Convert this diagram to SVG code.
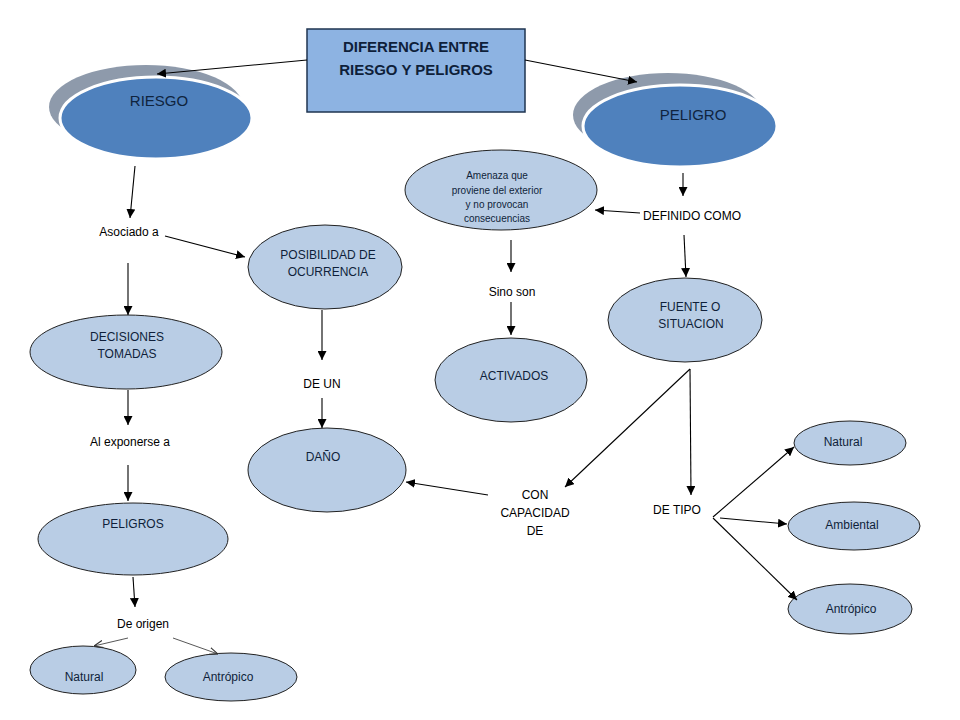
<svg xmlns="http://www.w3.org/2000/svg" width="960" height="720" viewBox="0 0 960 720">
<defs>
<marker id="ah" viewBox="0 0 10 10" refX="10" refY="5" markerWidth="9" markerHeight="9" markerUnits="userSpaceOnUse" orient="auto"><path d="M0,0 L10,5 L0,10 z" fill="#000"/></marker>
<marker id="oh" viewBox="0 0 10 10" refX="10" refY="5" markerWidth="9" markerHeight="9" markerUnits="userSpaceOnUse" orient="auto"><path d="M0,1 L10,5 L0,9" fill="none" stroke="#333" stroke-width="1.2"/></marker>
<style>
text{font-family:"Liberation Sans",Arial,sans-serif;font-size:12px;text-anchor:middle;fill:#000}
.n{fill:#B9CDE5;stroke:#222;stroke-width:1}
.nt{fill:#0F1F3A}
.big{fill:#4F81BD;stroke:#fff;stroke-width:3}
.sh{fill:#8E9AAB}
.bt{font-size:15px;fill:#0F243E}
.c line,.c path{stroke:#000;stroke-width:1.1;fill:none;marker-end:url(#ah)}
.c .thin{stroke:#444;stroke-width:0.9;marker-end:url(#oh)}
.sm{font-size:10px}
</style>
</defs>
<rect width="960" height="720" fill="#fff"/>

<g id="title">
<rect x="307" y="29" width="218" height="83" fill="#8DB3E2" stroke="#1F3550" stroke-width="1.5"/>
<text x="416" y="52" style="font-weight:bold;font-size:15px;fill:#0F1F3A">DIFERENCIA ENTRE</text>
<text x="416" y="75" style="font-weight:bold;font-size:15px;fill:#0F1F3A">RIESGO Y PELIGROS</text>
</g>

<g id="riesgo">
<ellipse class="sh" cx="146" cy="107" rx="97" ry="42"/>
<ellipse class="big" cx="156" cy="118" rx="96" ry="41"/>
<text class="bt" x="159" y="106">RIESGO</text>
</g>

<g id="peligro">
<ellipse class="sh" cx="668" cy="115" rx="95" ry="42"/>
<ellipse class="big" cx="680" cy="126" rx="97" ry="41"/>
<text class="bt" x="693" y="120">PELIGRO</text>
</g>

<g id="asociado"><text x="129" y="236">Asociado a</text></g>

<g id="posibilidad">
<ellipse class="n" cx="325" cy="267" rx="77" ry="42"/>
<text class="nt" x="328" y="259">POSIBILIDAD DE</text>
<text class="nt" x="328" y="276">OCURRENCIA</text>
</g>

<g id="decisiones">
<ellipse class="n" cx="126" cy="352" rx="96" ry="37"/>
<text class="nt" x="127" y="341">DECISIONES</text>
<text class="nt" x="127" y="358">TOMADAS</text>
</g>

<g id="deun"><text x="322" y="388">DE UN</text></g>

<g id="alexponerse"><text x="130" y="446">Al exponerse a</text></g>

<g id="dano">
<ellipse class="n" cx="327" cy="470" rx="79" ry="42"/>
<text class="nt" x="323" y="461">DAÑO</text>
</g>

<g id="peligros">
<ellipse class="n" cx="133" cy="539" rx="95" ry="36"/>
<text class="nt" x="133" y="528">PELIGROS</text>
</g>

<g id="deorigen"><text x="143" y="628">De origen</text></g>

<g id="natural1">
<ellipse class="n" cx="83" cy="670" rx="53" ry="24"/>
<text class="nt" x="84" y="681">Natural</text>
</g>

<g id="antropico1">
<ellipse class="n" cx="231" cy="677" rx="66" ry="24"/>
<text class="nt" x="228" y="681">Antrópico</text>
</g>

<g id="amenaza">
<ellipse class="n" cx="501" cy="190" rx="96" ry="40"/>
<text class="nt sm" x="497" y="179">Amenaza que</text>
<text class="nt sm" x="497" y="194">proviene del exterior</text>
<text class="nt sm" x="497" y="208">y no provocan</text>
<text class="nt sm" x="497" y="222">consecuencias</text>
</g>

<g id="definido"><text x="692" y="220">DEFINIDO COMO</text></g>

<g id="sinoson"><text x="512" y="296">Sino son</text></g>

<g id="activados">
<ellipse class="n" cx="511" cy="380" rx="76" ry="42"/>
<text class="nt" x="514" y="380">ACTIVADOS</text>
</g>

<g id="fuente">
<ellipse class="n" cx="685" cy="320" rx="77" ry="42"/>
<text class="nt" x="690" y="311">FUENTE O</text>
<text class="nt" x="691" y="328">SITUACION</text>
</g>

<g id="concapacidad">
<text x="535" y="499">CON</text>
<text x="535" y="517">CAPACIDAD</text>
<text x="535" y="535">DE</text>
</g>

<g id="detipo"><text x="677" y="514">DE TIPO</text></g>

<g id="natural2">
<ellipse class="n" cx="850" cy="443" rx="56" ry="22"/>
<text class="nt" x="843" y="446">Natural</text>
</g>

<g id="ambiental">
<ellipse class="n" cx="854" cy="526" rx="66" ry="24"/>
<text class="nt" x="852" y="529">Ambiental</text>
</g>

<g id="antropico2">
<ellipse class="n" cx="850" cy="609" rx="62" ry="25"/>
<text class="nt" x="851" y="613">Antrópico</text>
</g>

<g id="connectors" class="c">
<line x1="307" y1="60" x2="157" y2="74"/>
<line x1="525" y1="60" x2="637" y2="82"/>
<line x1="135" y1="166" x2="130" y2="218"/>
<line x1="165" y1="236" x2="245" y2="257"/>
<line x1="128" y1="263" x2="128" y2="315"/>
<line x1="322" y1="310" x2="322" y2="360"/>
<line x1="128" y1="390" x2="128" y2="425"/>
<line x1="322" y1="398" x2="322" y2="428"/>
<line x1="128" y1="465" x2="128" y2="501"/>
<line x1="133" y1="577" x2="135" y2="607"/>
<line class="thin" x1="128" y1="638" x2="94" y2="646"/>
<line class="thin" x1="173" y1="638" x2="218" y2="654"/>
<line x1="683" y1="173" x2="683" y2="196"/>
<line x1="640" y1="213" x2="595" y2="210"/>
<line x1="684" y1="235" x2="686" y2="277"/>
<line x1="511" y1="240" x2="511" y2="272"/>
<line x1="511" y1="302" x2="511" y2="335"/>
<line x1="690" y1="369" x2="565" y2="487"/>
<line x1="690" y1="369" x2="691" y2="495"/>
<line x1="488" y1="495" x2="406" y2="482"/>
<line x1="713" y1="517" x2="794" y2="447"/>
<line x1="720" y1="518" x2="787" y2="524"/>
<line x1="713" y1="518" x2="797" y2="600"/>
</g>
</svg>
